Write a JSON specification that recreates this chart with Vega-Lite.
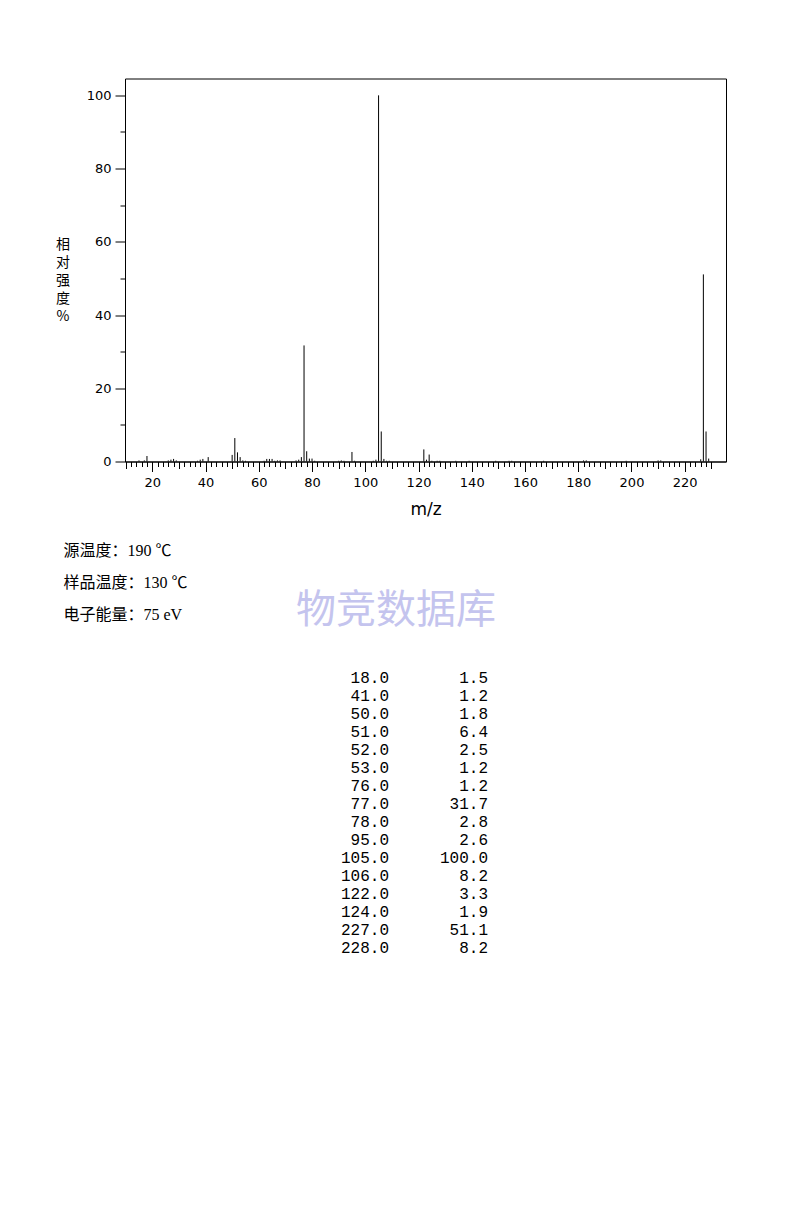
{
  "$schema": "https://vega.github.io/schema/vega-lite/v6.json",
  "background": "white",
  "padding": {"left": 55, "top": 77.5, "right": 5, "bottom": 5},
  "spacing": 8.5,
  "config": {
    "view": {"stroke": null},
    "axis": {
      "domainColor": "black",
      "tickColor": "black",
      "labelColor": "black",
      "titleColor": "black",
      "labelFont": "DejaVu Sans",
      "labelFontSize": 13,
      "grid": false,
      "labelFlush": false,
      "labelOverlap": false,
      "labelBound": false
    }
  },
  "datasets": {
    "spectrum": [
      {"mz": 15, "intensity": 0.3}, {"mz": 17, "intensity": 0.3}, {"mz": 18, "intensity": 1.5},
      {"mz": 26, "intensity": 0.3}, {"mz": 27, "intensity": 0.5}, {"mz": 28, "intensity": 0.7},
      {"mz": 29, "intensity": 0.3}, {"mz": 37, "intensity": 0.2}, {"mz": 38, "intensity": 0.5},
      {"mz": 39, "intensity": 0.7}, {"mz": 41, "intensity": 1.2}, {"mz": 50, "intensity": 1.8},
      {"mz": 51, "intensity": 6.4}, {"mz": 52, "intensity": 2.5}, {"mz": 53, "intensity": 1.2},
      {"mz": 54, "intensity": 0.3}, {"mz": 55, "intensity": 0.2}, {"mz": 62, "intensity": 0.2},
      {"mz": 63, "intensity": 0.7}, {"mz": 64, "intensity": 0.7}, {"mz": 65, "intensity": 0.7},
      {"mz": 66, "intensity": 0.2}, {"mz": 67, "intensity": 0.3}, {"mz": 68, "intensity": 0.3},
      {"mz": 74, "intensity": 0.3}, {"mz": 75, "intensity": 0.5}, {"mz": 76, "intensity": 1.2},
      {"mz": 77, "intensity": 31.7}, {"mz": 78, "intensity": 2.8}, {"mz": 79, "intensity": 0.8},
      {"mz": 80, "intensity": 0.8}, {"mz": 81, "intensity": 0.2}, {"mz": 90, "intensity": 0.2},
      {"mz": 91, "intensity": 0.3}, {"mz": 92, "intensity": 0.2}, {"mz": 95, "intensity": 2.6},
      {"mz": 96, "intensity": 0.2}, {"mz": 103, "intensity": 0.2}, {"mz": 104, "intensity": 0.5},
      {"mz": 105, "intensity": 100.0}, {"mz": 106, "intensity": 8.2}, {"mz": 107, "intensity": 0.7},
      {"mz": 108, "intensity": 0.2}, {"mz": 109, "intensity": 0.2}, {"mz": 122, "intensity": 3.3},
      {"mz": 123, "intensity": 0.5}, {"mz": 124, "intensity": 1.9}, {"mz": 125, "intensity": 0.2},
      {"mz": 127, "intensity": 0.2}, {"mz": 128, "intensity": 0.2}, {"mz": 134, "intensity": 0.2},
      {"mz": 139, "intensity": 0.2}, {"mz": 149, "intensity": 0.2}, {"mz": 154, "intensity": 0.2},
      {"mz": 155, "intensity": 0.2}, {"mz": 167, "intensity": 0.2}, {"mz": 182, "intensity": 0.3},
      {"mz": 183, "intensity": 0.3}, {"mz": 198, "intensity": 0.2}, {"mz": 210, "intensity": 0.3},
      {"mz": 211, "intensity": 0.3}, {"mz": 226, "intensity": 0.6}, {"mz": 227, "intensity": 51.1},
      {"mz": 228, "intensity": 8.2}, {"mz": 229, "intensity": 0.8}
    ],
    "info": [
      {"line": "源温度：190 ℃", "watermark": ""},
      {"line": "样品温度：130 ℃", "watermark": ""},
      {"line": "电子能量：75 eV", "watermark": "物竞数据库"}
    ]
  },
  "vconcat": [
    {
      "width": 601,
      "height": 383,
      "view": {"stroke": "black", "strokeWidth": 1},
      "data": {"name": "spectrum"},
      "mark": {"type": "rule", "color": "black", "strokeWidth": 1},
      "encoding": {
        "x": {
          "field": "mz",
          "type": "quantitative",
          "scale": {"domain": [9.75, 235.5], "nice": false, "zero": false},
          "axis": {
            "values": [10,12,14,16,18,20,22,24,26,28,30,32,34,36,38,40,42,44,46,48,50,52,54,56,58,60,62,64,66,68,70,72,74,76,78,80,82,84,86,88,90,92,94,96,98,100,102,104,106,108,110,112,114,116,118,120,122,124,126,128,130,132,134,136,138,140,142,144,146,148,150,152,154,156,158,160,162,164,166,168,170,172,174,176,178,180,182,184,186,188,190,192,194,196,198,200,202,204,206,208,210,212,214,216,218,220,222,224,226,228,230],
            "tickSize": {"condition": [{"test": "datum.value % 20 === 0", "value": 10}, {"test": "datum.value % 10 === 0", "value": 7}], "value": 5},
            "labelExpr": "datum.value % 20 === 0 ? datum.label : ''",
            "labelPadding": 5,
            "title": "m/z",
            "titleFont": "DejaVu Sans",
            "titleFontSize": 17,
            "titleFontWeight": "normal",
            "titleY": 48,
            "titleBaseline": "middle"
          }
        },
        "y": {
          "field": "intensity",
          "type": "quantitative",
          "scale": {"domain": [0, 104.6], "nice": false, "zero": true},
          "axis": {
            "values": [0,10,20,30,40,50,60,70,80,90,100],
            "tickSize": {"condition": {"test": "datum.value % 20 === 0", "value": 10}, "value": 5},
            "labelExpr": "datum.value % 20 === 0 ? datum.label : ''",
            "labelPadding": 4,
            "title": ["相", "对", "强", "度", "%"],
            "titleAngle": 0,
            "titleX": -62.5,
            "titleY": 166,
            "titleAlign": "center",
            "titleBaseline": "middle",
            "titleLineHeight": 18,
            "titleFont": "Noto Sans CJK SC",
            "titleFontSize": 14,
            "titleFontWeight": "normal"
          }
        },
        "y2": {"datum": 0}
      }
    },
    {
      "width": 542,
      "height": 96,
      "data": {"name": "info"},
      "mark": {"type": "text", "font": "Noto Sans CJK SC", "fontSize": 40, "color": "#c4c4ee", "dy": -3},
      "encoding": {
        "y": {
          "field": "line",
          "type": "nominal",
          "sort": null,
          "axis": {
            "title": null,
            "ticks": false,
            "domain": false,
            "labelAlign": "left",
            "labelPadding": 62,
            "labelFont": "Liberation Serif, Noto Sans CJK SC",
            "labelFontSize": 16,
            "labelLimit": 0
          }
        },
        "text": {"field": "watermark"}
      }
    },
    {
      "width": 627,
      "height": 317.5,
      "data": {"name": "spectrum"},
      "transform": [
        {"filter": "datum.intensity >= 1"},
        {"fold": ["mz", "intensity"], "as": ["column", "value"]}
      ],
      "mark": {"type": "text", "align": "right", "font": "Liberation Mono", "fontSize": 16, "color": "black"},
      "encoding": {
        "y": {"field": "mz", "type": "ordinal", "axis": null, "scale": {"type": "point", "padding": 0, "range": [38.5, 308.5]}},
        "x": {"field": "column", "type": "nominal", "sort": ["mz", "intensity"], "axis": null, "scale": {"type": "point", "padding": 0, "range": [264, 363]}},
        "text": {"field": "value", "type": "quantitative", "format": ".1f"}
      }
    }
  ]
}
